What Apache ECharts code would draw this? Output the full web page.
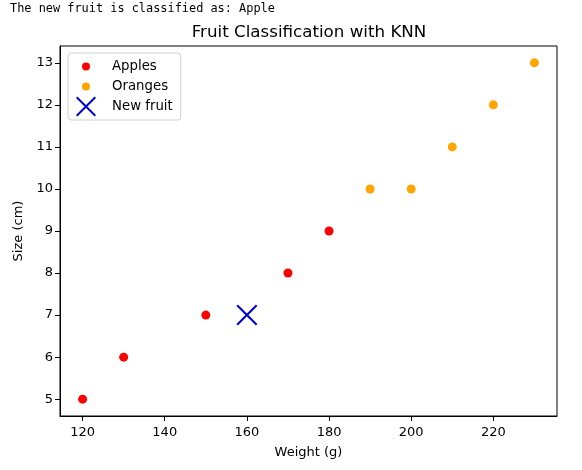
<!DOCTYPE html>
<html><head><meta charset="utf-8">
<script src="https://cdn.jsdelivr.net/npm/echarts@6/dist/echarts.min.js"></script>
<style>html,body{margin:0;padding:0;background:#fff}#c{width:582px;height:470px}</style>
</head><body><div id="c"></div>
<script>
const appleWeights = [120, 130, 150, 170, 180];
const appleSizes = [5, 6, 7, 8, 9];
const orangeWeights = [190, 200, 210, 220, 230];
const orangeSizes = [10, 10, 11, 12, 13];
const newFruitWeight = [160];
const newFruitSize = [7];
const xTicks = [120, 140, 160, 180, 200, 220];
const yTicks = [5, 6, 7, 8, 9, 10, 11, 12, 13];
const seriesNames = ['Apples', 'Oranges', 'New fruit'];
const resultText = 'The new fruit is classified as: Apple';

const zip = (a, b) => a.map((v, i) => [v, b[i]]);
const X_PATH = 'path://M0,0.7L0.7,0L10,9.3L9.3,10ZM9.3,0L10,0.7L0.7,10L0,9.3Z';
const DOT_ICON = 'path://M0,0L0.001,0L0.001,0.001ZM20,20L20.001,20L20.001,20.001ZM6,10A4,4,0,1,0,14,10A4,4,0,1,0,6,10Z';
const X_ICON = 'path://M0,0.7L0.7,0L10,9.3L9.3,10ZM9.3,0L10,0.7L0.7,10L0,9.3Z';
const font = 'DejaVu Sans';
const chart = echarts.init(document.getElementById('c'), null, {renderer: 'canvas'});
chart.setOption({
  animation: false,
  backgroundColor: '#fff',
  textStyle: {fontFamily: font},
  title: [
    {text: 'Fruit Classification with KNN', left: 309, top: 24, textAlign: 'center', padding: 0,
     textStyle: {fontFamily: font, fontSize: 16.7, fontWeight: 'normal', color: '#000'}},
    {text: resultText, left: 10, top: 3, padding: 0,
     textStyle: {fontFamily: 'DejaVu Sans Mono', fontSize: 11.9, fontWeight: 'normal', color: '#000'}}
  ],
  grid: {left: 60, right: 25, top: 46, bottom: 54, show: true, borderColor: '#000', borderWidth: 1, containLabel: false},
  legend: {
    left: 68, top: 53, orient: 'vertical', itemWidth: 20, itemHeight: 20, itemGap: 0,
    padding: [3.5, 8, 3.5, 8], borderColor: '#d0d0d0', borderWidth: 1, borderRadius: 3,
    backgroundColor: 'rgba(255,255,255,0.8)',
    textStyle: {fontFamily: font, fontSize: 13.3, color: '#000', padding: [0, 0, 0, 11]},
    data: [
      {name: seriesNames[0], icon: DOT_ICON, itemStyle: {color: '#ff0000'}},
      {name: seriesNames[1], icon: DOT_ICON, itemStyle: {color: '#ffa500'}},
      {name: seriesNames[2], icon: X_ICON, itemStyle: {color: '#0000cd'}}
    ]
  },
  xAxis: {
    type: 'value', min: 114.5, max: 235.5,
    name: 'Weight (g)', nameLocation: 'middle', nameGap: 30,
    nameTextStyle: {fontFamily: font, fontSize: 13, color: '#000'},
    axisLine: {show: true, lineStyle: {color: '#000'}},
    axisTick: {show: true, inside: false, length: 5, lineStyle: {color: '#000'}, customValues: xTicks},
    axisLabel: {color: '#000', fontSize: 13, fontFamily: font, margin: 10, customValues: xTicks},
    splitLine: {show: false}
  },
  yAxis: {
    type: 'value', min: 4.6, max: 13.4,
    name: 'Size (cm)', nameLocation: 'middle', nameGap: 31, nameRotate: 90,
    nameTextStyle: {fontFamily: font, fontSize: 13, color: '#000'},
    axisLine: {show: true, lineStyle: {color: '#000'}},
    axisTick: {show: true, inside: false, length: 5, lineStyle: {color: '#000'}, customValues: yTicks},
    axisLabel: {color: '#000', fontSize: 13, fontFamily: font, margin: 7, customValues: yTicks},
    splitLine: {show: false}
  },
  series: [
    {name: seriesNames[0], type: 'scatter', data: zip(appleWeights, appleSizes), symbol: 'circle', symbolSize: 9, itemStyle: {color: '#ff0000', opacity: 1}},
    {name: seriesNames[1], type: 'scatter', data: zip(orangeWeights, orangeSizes), symbol: 'circle', symbolSize: 9, itemStyle: {color: '#ffa500', opacity: 1}},
    {name: seriesNames[2], type: 'scatter', data: zip(newFruitWeight, newFruitSize), symbol: X_PATH, symbolSize: 21, itemStyle: {color: '#0000cd', opacity: 1}}
  ]
});
</script></body></html>
